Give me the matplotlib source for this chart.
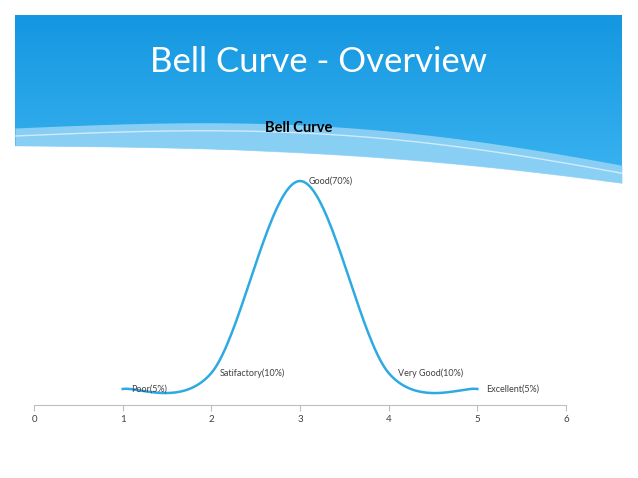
import numpy as np
import matplotlib
matplotlib.use("Agg")
import matplotlib.pyplot as plt
from matplotlib.patches import FancyBboxPatch, Polygon

x = [1, 2, 3, 4, 5]
y = [5, 10, 70, 10, 5]
labels = ["Poor(5%)", "Satifactory(10%)", "Good(70%)", "Very Good(10%)", "Excellent(5%)"]

plt.rcParams['font.family'] = ['Lato', 'DejaVu Sans']
W, H = 638, 478
fig = plt.figure(figsize=(W/100, H/100), dpi=100)
bg = fig.add_axes([0, 0, 1, 1])
bg.set_xlim(0, W); bg.set_ylim(H, 0); bg.axis('off')
# header
xs = np.linspace(15, 622, 200)
bound = 128 - 25*np.sin((xs-15)/607*np.pi*0.9) + (xs-15)/607*45
bound2 = bound + 18 + 10*np.sin((xs-15)/607*np.pi)
grad = np.linspace(0, 1, 100).reshape(-1, 1)
im = bg.imshow(grad, extent=[15, 622, 200, 15], cmap=matplotlib.colors.LinearSegmentedColormap.from_list('b', ['#1497e0', '#3fb6f2']), aspect='auto', zorder=1)
clip = FancyBboxPatch((15, 15), 607, 300, boxstyle="round,pad=0,rounding_size=8", transform=bg.transData)
poly = Polygon(np.vstack([np.c_[xs, bound2], [[622, 15], [15, 15]]]), closed=True, transform=bg.transData)
im.set_clip_path(poly)
bg.fill_between(xs, bound, bound2, color='#9fd8f7', alpha=0.8, zorder=2, lw=0)
bg.plot(xs, bound + 8, color='white', lw=1, alpha=0.6, zorder=3)
bg.fill_between(xs[:80], bound2[:80], bound[:80]+40, color='white', zorder=2, lw=0)
bg.text(318, 62, "Bell Curve - Overview", color='white', fontsize=25, ha='center', va='center', zorder=5)
bg.text(299, 128, "Bell Curve", color='black', fontsize=10.5, fontweight='bold', ha='center', va='center', zorder=5)

ax = fig.add_axes([34/W, 1-405/H, 532/W, 256/H])
ax.patch.set_alpha(0)
px = np.array([x[0]] + x + [x[-1]], float); py = np.array([y[0]] + y + [y[-1]], float)
cx, cy = [], []
t = np.linspace(0, 1, 40)
for i in range(1, len(px)-2):
    p0, p1, p2, p3 = [np.array([px[j], py[j]]) for j in (i-1, i, i+1, i+2)]
    m1 = (p2 - p0)/2; m2 = (p3 - p1)/2
    h00 = 2*t**3-3*t**2+1; h10 = t**3-2*t**2+t; h01 = -2*t**3+3*t**2; h11 = t**3-t**2
    seg = np.outer(h00, p1)+np.outer(h10, m1)+np.outer(h01, p2)+np.outer(h11, m2)
    cx += list(seg[:, 0]); cy += list(seg[:, 1])
ax.plot(cx, cy, color='#2eaae3', lw=1.8)
for xi, yi, l in zip(x, y, labels):
    ax.text(xi + 0.1, yi, l, fontsize=6.5, color='#404040', va='center', ha='left')
ax.set_xlim(0, 6); ax.set_ylim(0, 80)
ax.set_yticks([])
ax.set_xticks(range(7))
for s in ['top', 'right', 'left']:
    ax.spines[s].set_visible(False)
ax.spines['bottom'].set_color('#bfbfbf')
ax.tick_params(axis='x', colors='#404040', labelsize=7, length=4, color='#bfbfbf')
fig.savefig("out.png", dpi=100, facecolor='white')
